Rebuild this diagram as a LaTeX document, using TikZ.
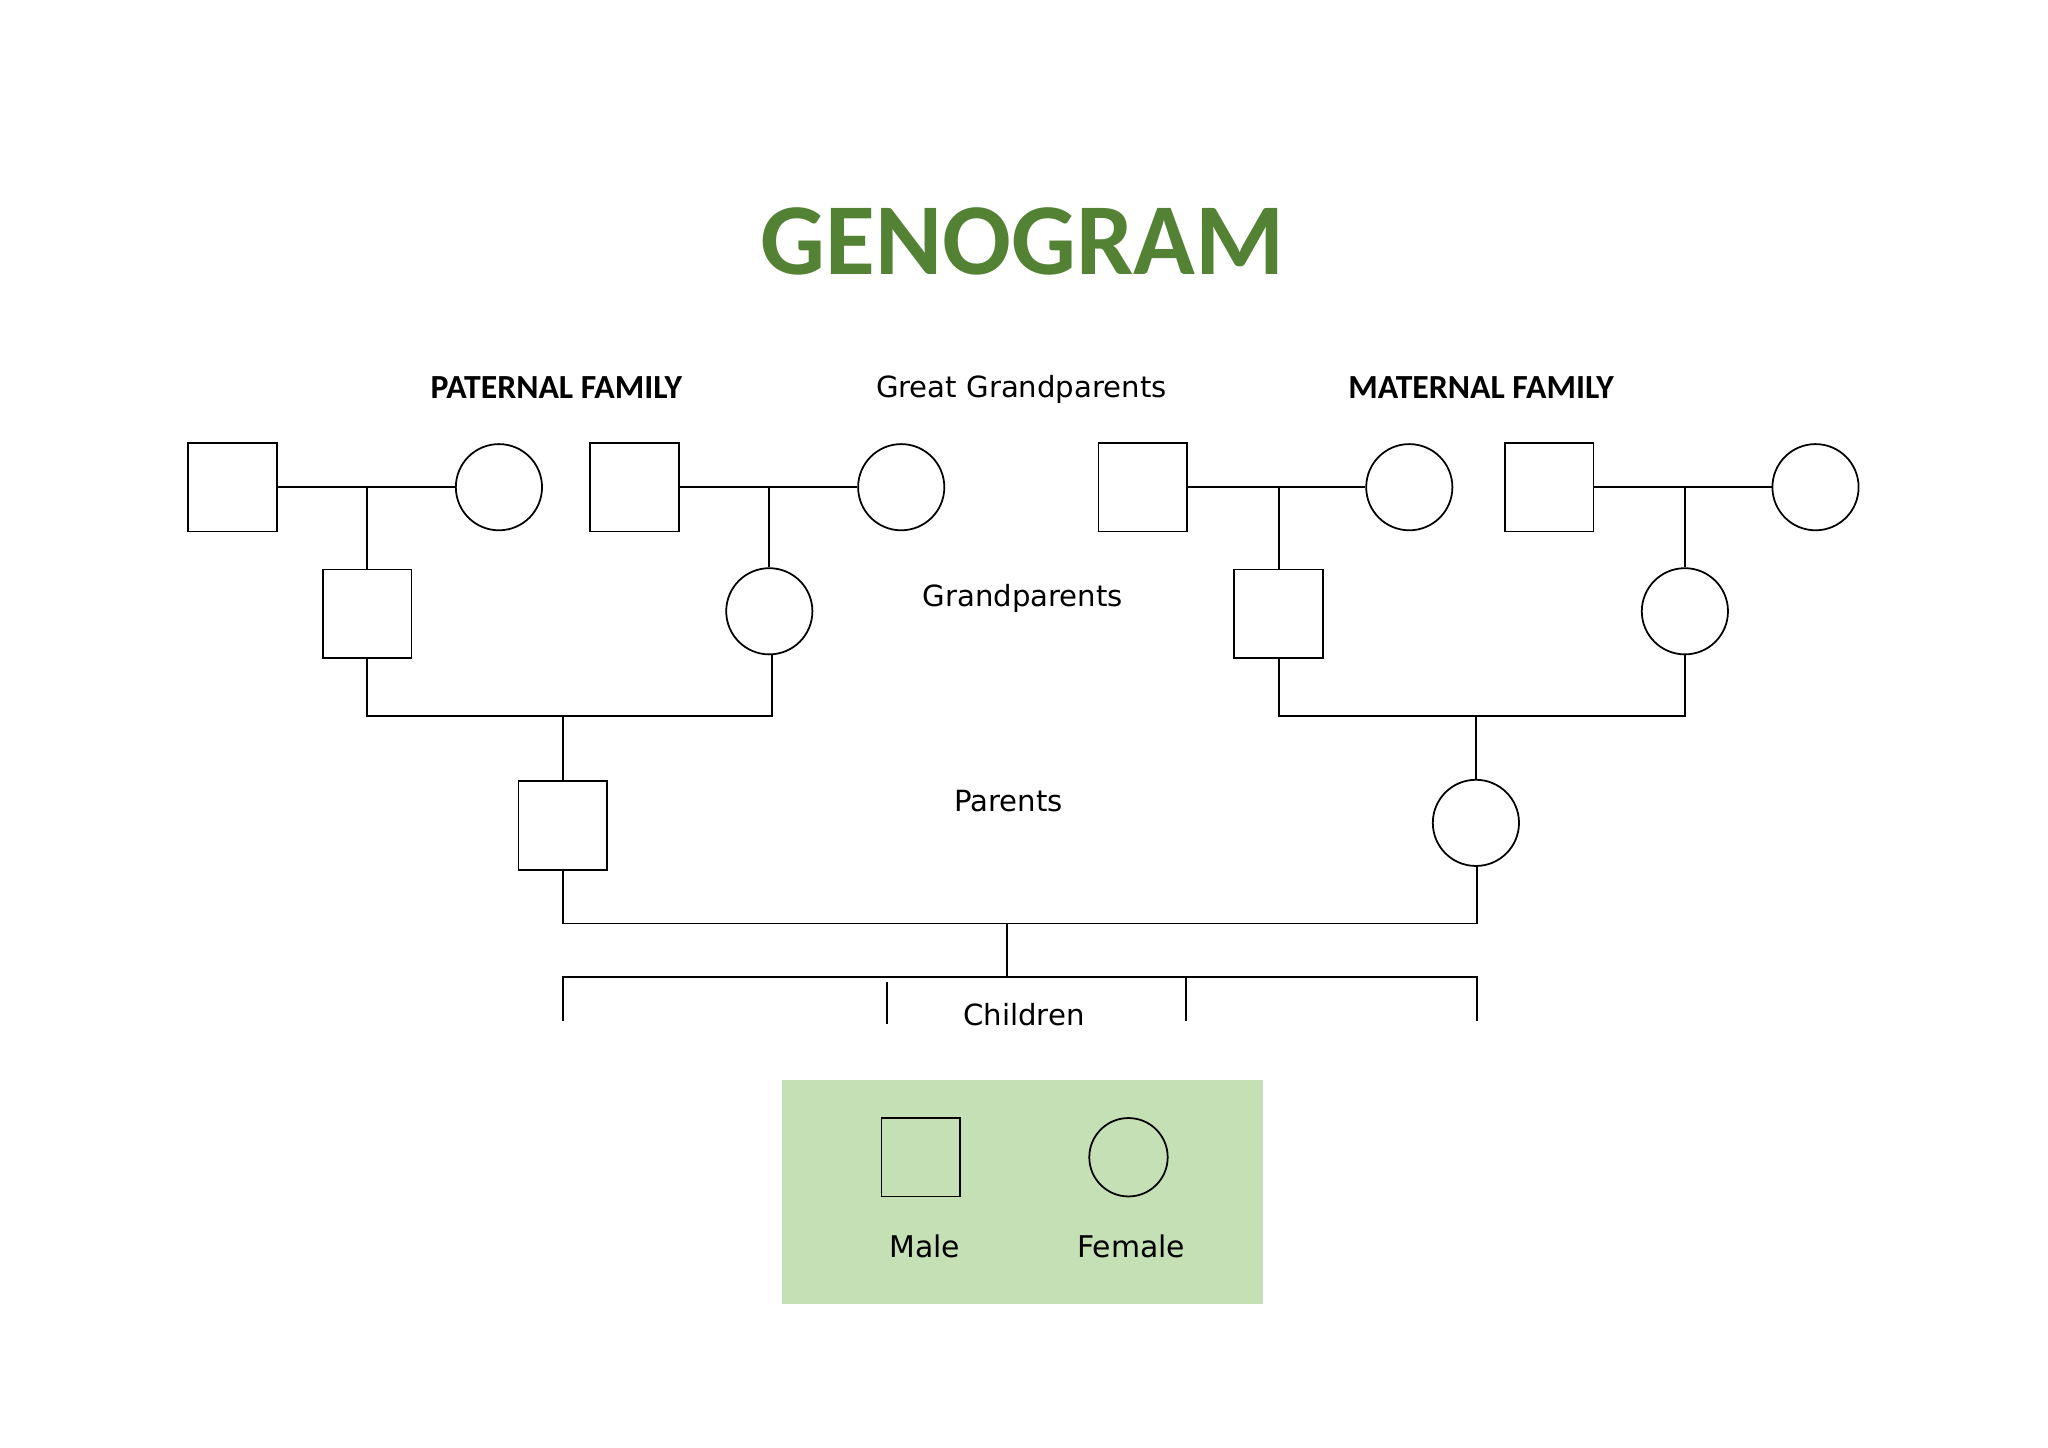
\documentclass[tikz,border=0pt]{standalone}
\usepackage{fontspec}
\setmainfont{DejaVu Sans}
\newfontfamily\carl{Carlito}
\definecolor{ttl}{HTML}{548235}
\definecolor{leg}{HTML}{C5E0B4}
\begin{document}
\begin{tikzpicture}[x=0.013061cm,y=-0.013061cm,line width=0.5pt,
 m/.style={draw,rectangle,minimum size=0.888cm,inner sep=0,fill=white},
 f/.style={draw,circle,minimum size=0.862cm,inner sep=0,fill=white},
 lab/.style={font=\fontsize{8.3}{10}\selectfont},
 fam/.style={font=\carl\bfseries\fontsize{9.6}{11}\selectfont}]
\useasboundingbox (0,0) rectangle (1568,1108);
\node[font=\carl\bfseries\fontsize{29}{33}\selectfont,text=ttl] (t) at (783,185) {GENOGRAM};
\node[fam] (pf) at (426,297) {PATERNAL FAMILY};
\node[fam] (mf) at (1134,297) {MATERNAL FAMILY};
\node[lab] (gg) at (782,298) {Great Grandparents};
\node[lab] (gp) at (783,458) {Grandparents};
\node[lab] (pa) at (772,613) {Parents};
\node[lab] (ch) at (784,777) {Children};
% great grandparents
\node[m] (s1) at (178,373) {}; \node[f] (c1) at (382,373) {};
\node[m] (s2) at (486,373) {}; \node[f] (c2) at (690,373) {};
\node[m] (s3) at (875,373) {}; \node[f] (c3) at (1079,373) {};
\node[m] (s4) at (1186,373) {}; \node[f] (c4) at (1390,373) {};
% grandparents
\node[m] (g1) at (281,470) {}; \node[f] (g2) at (589,468) {};
\node[m] (g3) at (979,470) {}; \node[f] (g4) at (1290,468) {};
% parents
\node[m] (p1) at (431,632) {}; \node[f] (p2) at (1130,630) {};
\draw (s1.east)--(c1.west); \draw (281,373)--(g1.north);
\draw (s2.east)--(c2.west); \draw (589,373)--(g2.north);
\draw (s3.east)--(c3.west); \draw (979,373)--(g3.north);
\draw (s4.east)--(c4.west); \draw (1290,373)--(g4.north);
\draw (g1.south)--(281,548)--(591,548)--(591,501);
\draw (431,548)--(p1.north);
\draw (g3.south)--(979,548)--(1290,548)--(g4.south);
\draw (1130,548)--(p2.north);
\draw (p1.south)--(431,707)--(1131,707)--(1131,663);
\draw (771,707)--(771,748);
\draw (431,782)--(431,748)--(1131,748)--(1131,782);
\draw (679,752)--(679,784); \draw (908,748)--(908,782);
% legend
\fill[leg] (599,827) rectangle (967,998);
\node[m,fill=leg,minimum size=0.784cm] (lm) at (705,886) {};
\node[f,fill=leg,minimum size=0.784cm] (lf) at (864,886) {};
\node[font=\fontsize{8.5}{10}\selectfont] (ml) at (708,954) {Male};
\node[font=\fontsize{8.5}{10}\selectfont] (fl) at (866,954) {Female};
\end{tikzpicture}
\end{document}
